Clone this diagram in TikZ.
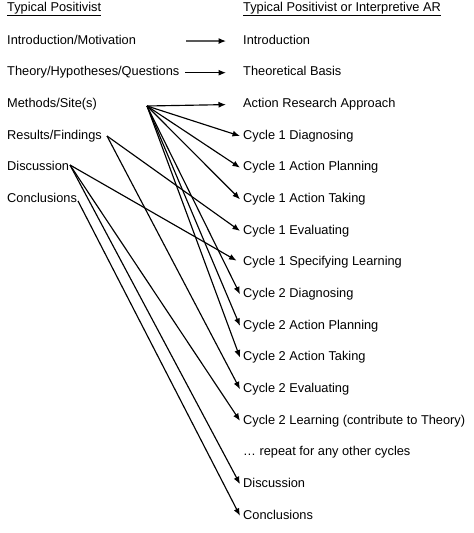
\documentclass[tikz,border=0pt]{standalone}
\usepackage{fontspec}
\setmainfont{Liberation Sans}
\usetikzlibrary{arrows.meta}
\newcommand\rowsep{31.65}
\newcommand\rowone{44.3}

\begin{document}
\begin{tikzpicture}[x=1pt, y=-1pt,
    item/.style={anchor=base west, inner xsep=3pt, inner ysep=0pt, text height=9.2pt, text depth=2.7pt, font=\fontsize{12.8}{15}\selectfont},
    arr/.style={-{Latex[length=7.5pt,width=6pt]}, line width=1.15pt},
    gap/.style={shorten >=14pt}]
    \useasboundingbox (0,0) rectangle (474,533);

    %Headings
    \node[item] (lh) at (4,11) {\underline{Typical Positivist}};
    \node[item] (rh) at (240,11) {\underline{Typical Positivist or Interpretive AR}};

    %Left column
    \node[item] (l1) at (4,\rowone) {Introduction/Motivation};
    \node[item] (l2) at (4,\rowone+\rowsep) {Theory/Hypotheses/Questions};
    \node[item] (l3) at (4,\rowone+2*\rowsep) {Methods/Site(s)};
    \node[item] (l4) at (4,\rowone+3*\rowsep) {Results/Findings};
    \node[item] (l5) at (4,\rowone+4*\rowsep) {Discussion};
    \node[item] (l6) at (4,\rowone+5*\rowsep) {Conclusions};

    %Right column
    \foreach \n/\t in {1/Introduction, 2/Theoretical Basis, 3/Action Research Approach,
        4/Cycle 1 Diagnosing, 5/Cycle 1 Action Planning, 6/Cycle 1 Action Taking,
        7/Cycle 1 Evaluating, 8/Cycle 1 Specifying Learning, 9/Cycle 2 Diagnosing,
        10/Cycle 2 Action Planning, 11/Cycle 2 Action Taking, 12/Cycle 2 Evaluating,
        13/Cycle 2 Learning (contribute to Theory), 14/\dots\ repeat for any other cycles,
        15/Discussion, 16/Conclusions}
        \node[item] (r\n) at (240,\rowone+\n*\rowsep-\rowsep) {\t};

    %Start points
    \coordinate (intro) at (186,41);
    \coordinate (theo) at (185,72.7);
    \coordinate (mth) at (147,106);
    \coordinate (res) at (107,136);
    \coordinate (dis) at (70,165);
    \coordinate (con) at (78,201);

    \draw[arr, gap] (intro) -- (r1.west);
    \draw[arr, gap] (theo) -- (r2.west);

    %Methods
    \draw[arr, gap] (mth) -- (r3.west);
    \foreach \n in {4,5,6,9,10,11}
        \draw[arr] (mth) -- (r\n.west);

    %Results
    \draw[arr] (res) -- (r7.west);
    \draw[arr] (res) -- (r12.west);

    %Discussion
    \draw[arr, shorten >=4pt] (dis) -- (r8.west);
    \draw[arr] (dis) -- (r13.west);
    \draw[arr] (dis) -- (r15.west);

    %Conclusions
    \draw[arr] (con) -- (r16.west);
\end{tikzpicture}
\end{document}
